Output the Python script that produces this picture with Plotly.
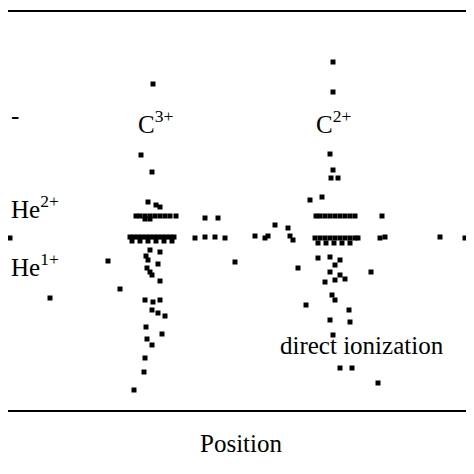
import plotly.graph_objects as go

# detector hits (pixel-like units)
hit_x = [153, 141, 152, 148, 156, 160,
         136, 140, 145, 150, 155, 160, 165, 170, 176, 145, 150,
         130, 134, 138, 142, 146, 150, 154, 158, 162, 166, 170, 174,
         132, 140, 148, 156, 164, 172,
         160, 150, 158, 146, 148, 147, 150, 152, 160, 108, 235,
         205, 215, 195, 225, 205, 218,
         120, 145, 153, 160, 152, 158, 165, 146, 162, 147, 152, 145, 144, 134, 50,
         333, 333, 330, 333, 338, 331, 322, 310,
         316, 320, 325, 330, 335, 340, 345, 350, 355, 382,
         275, 288, 290, 293,
         315, 320, 325, 330, 335, 340, 345, 350, 355, 358,
         318, 326, 334, 342, 350,
         255, 265, 268, 385, 380,
         318, 330, 340, 335, 330, 340, 298, 371,
         325, 335, 345, 332, 335, 349, 330, 306, 350, 333,
         340, 352, 378, 440, 465, 472, 10]
hit_y = [84, 155, 172, 202, 205, 207,
         216, 216, 216, 216, 216, 216, 216, 216, 216, 219, 219,
         237, 237, 237, 237, 237, 237, 237, 237, 237, 237, 237, 237,
         241, 241, 241, 241, 241, 241,
         252, 250, 264, 256, 260, 268, 272, 275, 281, 261, 262,
         237, 237, 238, 238, 218, 218,
         289, 300, 302, 300, 310, 313, 316, 327, 334, 339, 345, 358, 372, 390, 298,
         62, 92, 154, 170, 178, 178, 197, 200,
         216, 216, 216, 216, 216, 216, 216, 216, 216, 216,
         225, 228, 236, 240,
         238, 238, 238, 238, 238, 238, 238, 238, 238, 238,
         243, 243, 243, 243, 243,
         236, 238, 236, 237, 238,
         258, 257, 260, 265, 272, 275, 268, 272,
         282, 280, 279, 295, 300, 310, 320, 305, 322, 335,
         368, 368, 383, 237, 238, 238, 238]

labels = ["C<sup>3+</sup>", "C<sup>2+</sup>", "He<sup>2+</sup>", "He<sup>1+</sup>", "direct ionization", "-"]
label_x = [155, 333, 9, 9, 362, 9]
label_y = [122, 122, 207, 265, 345, 115]
label_anchor = ["center", "center", "left", "left", "center", "left"]

fig = go.Figure()
fig.add_trace(go.Scatter(x=hit_x, y=hit_y, mode="markers",
                         marker=dict(symbol="square", size=5, color="black"),
                         showlegend=False, cliponaxis=False))
for t, x, y, a in zip(labels, label_x, label_y, label_anchor):
    fig.add_annotation(x=x, y=y, text=t, showarrow=False, xanchor=a,
                       font=dict(size=25, color="black"))
fig.add_annotation(x=0.5, y=-0.085, xref="paper", yref="paper", text="Position",
                   showarrow=False, yanchor="middle", font=dict(size=25, color="black"))

fig.update_xaxes(range=[8, 474], showticklabels=False, showgrid=False, zeroline=False,
                 showline=True, mirror=True, linecolor="black", linewidth=2, automargin=False)
fig.update_yaxes(range=[410, 12], showticklabels=False, showgrid=False, zeroline=False,
                 automargin=False)
fig.update_layout(width=466, height=466, margin=dict(l=0, r=0, t=4, b=64),
                  plot_bgcolor="white", paper_bgcolor="white",
                  font=dict(family="Liberation Serif"))
fig.write_html("out.html")
